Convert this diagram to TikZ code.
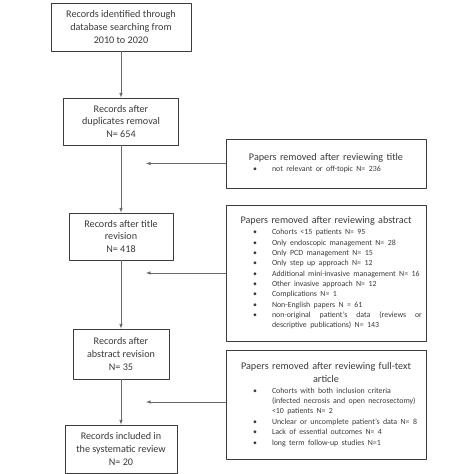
\documentclass[tikz,border=0pt]{standalone}
\usepackage{fontspec}
\setmainfont{Carlito}
\usepackage{enumitem}
\usetikzlibrary{arrows.meta}
\definecolor{boxgray}{HTML}{3C3C3C}
\definecolor{textgray}{HTML}{3A3A3A}
\definecolor{arrowgray}{HTML}{6A6A6A}
\setlist[itemize]{label=\textbullet,leftmargin=42bp,labelsep=15bp,itemsep=0pt,parsep=0pt,topsep=0.5bp,partopsep=0pt}

\begin{document}
\begin{tikzpicture}[>=latex,line join=bevel,
  recbox/.style={draw=boxgray,line width=0.9bp,align=center,text=textgray,inner sep=0pt,font=\fontsize{10.2}{12.7}\selectfont},
  rembox/.style={draw=boxgray,line width=0.9bp,text width=192bp,inner sep=4bp,text=textgray,font=\fontsize{10.2}{12.7}\selectfont},
  flow/.style={draw=arrowgray,line width=0.6bp,->},
  ]
\useasboundingbox (0bp,0bp) rectangle (474bp,-474bp);
%%
\node (node_1) at (121bp,-27bp) [recbox,minimum width=140bp,minimum height=48bp] {Records identified through\\database searching from\\2010 to 2020};
  \node (node_2) at (121bp,-121.5bp) [recbox,minimum width=115bp,minimum height=47bp] {Records after\\duplicates removal\\N= 654};
  \node (node_3) at (121bp,-236.5bp) [recbox,minimum width=104bp,minimum height=47bp] {Records after title\\revision\\N= 418};
  \node (node_4) at (121bp,-354bp) [recbox,minimum width=96bp,minimum height=50bp] {Records after\\abstract revision\\N= 35};
  \node (node_5) at (121bp,-449bp) [recbox,minimum width=112bp,minimum height=48bp] {Records included in\\the systematic review\\N= 20};
  \node (node_r1) at (326bp,-163.5bp) [rembox,minimum height=49bp] {{\centering Papers removed after reviewing title\par}
    \fontsize{7.9}{10.4}\selectfont
    \begin{itemize}
    \item not relevant or off-topic N= 236
    \end{itemize}};
  \node (node_r2) at (326bp,-273bp) [rembox,minimum height=136bp] {{\centering Papers removed after reviewing abstract\par}
    \fontsize{7.9}{10.4}\selectfont
    \begin{itemize}
    \item Cohorts <15 patients N= 95
    \item Only endoscopic management N= 28
    \item Only PCD management N= 15
    \item Only step up approach N= 12
    \item Additional mini-invasive management N= 16
    \item Other invasive approach N= 12
    \item Complications N= 1
    \item Non-English papers N = 61
    \item non-original\hfill patient's\hfill data\hfill (reviews\hfill or\newline descriptive publications) N= 143
    \end{itemize}};
  \node (node_r3) at (326bp,-404.5bp) [rembox,minimum height=109bp] {{\centering Papers removed after reviewing full-text\\article\par}
    \fontsize{7.9}{10.4}\selectfont
    \begin{itemize}
    \item Cohorts with both inclusion criteria\newline (infected necrosis and open necrosectomy)\newline <10 patients N= 2
    \item Unclear or uncomplete patient's data N= 8
    \item Lack of essential outcomes N= 4
    \item long term follow-up studies N=1
    \end{itemize}};
  \coordinate (tip_1) at (146bp,-163.5bp);
  \coordinate (tip_2) at (146bp,-273bp);
  \coordinate (tip_3) at (146bp,-402bp);
  \draw [flow] (node_1) -- (node_2);
  \draw [flow] (node_2) -- (node_3);
  \draw [flow] (node_3) -- (node_4);
  \draw [flow] (node_4) -- (node_5);
  \draw [flow] (node_r1.west |- tip_1) -- (tip_1);
  \draw [flow] (node_r2.west) -- (tip_2);
  \draw [flow] (node_r3.west |- tip_3) -- (tip_3);
%
\end{tikzpicture}
\end{document}
